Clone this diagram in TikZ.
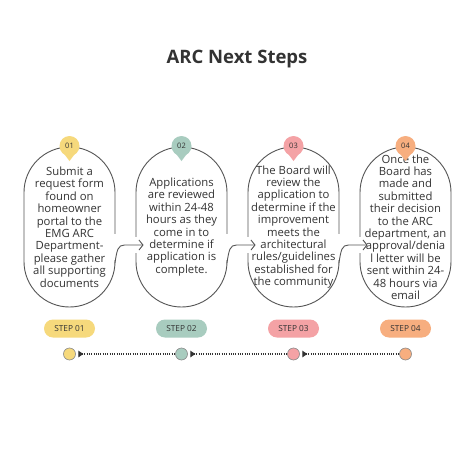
\documentclass[tikz,border=0pt]{standalone}
\usepackage{fontspec}
\setmainfont{Open Sans}
\usetikzlibrary{arrows.meta,calc}
\definecolor{cyel}{HTML}{F6D97C}
\definecolor{cgrn}{HTML}{A8CCBF}
\definecolor{cpnk}{HTML}{F4A2A5}
\definecolor{corg}{HTML}{F7AE7F}
\definecolor{ctxt}{HTML}{333333}
\definecolor{cline}{HTML}{555555}
\definecolor{cdot}{HTML}{8A8A8A}
\begin{document}
\begin{tikzpicture}[x=1pt,y=-1pt,
  pill/.style={draw=cline, line width=0.9pt, fill=white, rounded corners=45.4pt,
    minimum width=91pt, minimum height=160pt, inner sep=0pt, align=center,
    text=ctxt, font=\fontsize{11.3}{12.4}\selectfont},
  badge/.style={circle, minimum size=20pt, inner sep=0pt, text=ctxt,
    font=\fontsize{7.5}{8}\selectfont},
  steplbl/.style={rounded corners=9pt, minimum width=51pt, minimum height=18pt,
    inner sep=0pt, text=ctxt, font=\fontsize{8.3}{9}\selectfont},
  dotnode/.style={circle, draw=cdot, line width=0.6pt, minimum size=12pt, inner sep=0pt},
  conn/.style={draw=cline, line width=0.9pt, -{Straight Barb[length=4pt,width=10pt]}},
  gap/.style={draw=white, line width=2.4pt},
  dotline/.style={draw=ctxt, line width=1.1pt, dash pattern=on 1pt off 1.3pt,
    {Triangle[reversed,length=5pt,width=6.5pt]}-, shorten <=2.5pt}
]
\useasboundingbox[fill=white] (0,0) rectangle (474,474);

\node[font=\bfseries\fontsize{18.5}{22}\selectfont, text=ctxt] (title) at (237,59) {ARC Next Steps};

% pills
\node[pill] (p1) at (69.5,227) {Submit a\\request form\\found on\\homeowner\\portal to the\\EMG ARC\\Department-\\please gather\\all supporting\\documents};
\node[pill] (p2) at (181.5,227) {Applications\\are reviewed\\within 24-48\\hours as they\\come in to\\determine if\\application is\\complete.};
\node[pill] (p3) at (293.5,227) {The Board will\\review the\\application to\\determine if the\\improvement\\meets the\\architectural\\rules/guidelines\\established for\\the community};
\node[pill] (p4) at (405.5,227) {Once the\\Board has\\made and\\submitted\\their decision\\to the ARC\\department, an\\approval/denia\\l letter will be\\sent within 24-\\48 hours via\\email};

% gaps in outlines
\foreach \a/\b in {p1/p2,p2/p3,p3/p4}{
  \draw[gap] ($(\a.east)+(0,7)$) -- ($(\a.east)+(0,33)$);
  \draw[gap] ($(\b.west)+(0,10)$) -- ($(\b.west)+(0,26)$);
  \draw[conn] ($(\a.east)+(-0.5,36)$) .. controls ($(\a.east)+(1.5,23)$) and ($(\a.east)+(2.5,18)$) .. ($(\a.east)+(9,18)$) -- ($(\b.west)+(8,18)$);
}

% badges
\foreach \n/\x/\c in {1/69.5/cyel,2/181.5/cgrn,3/293.5/cpnk,4/405.5/corg}{
  \fill[\c] (\x-6,153) -- (\x,161) -- (\x+6,153) -- cycle;
  \node[badge, fill=\c] (b\n) at (\x,146) {0\n};
}

% step labels
\node[steplbl, fill=cyel] (s1) at (69.5,328.5) {STEP 01};
\node[steplbl, fill=cgrn] (s2) at (181.5,328.5) {STEP 02};
\node[steplbl, fill=cpnk] (s3) at (293.5,328.5) {STEP 03};
\node[steplbl, fill=corg] (s4) at (405.5,328.5) {STEP 04};

% dots
\node[dotnode, fill=cyel] (d1) at (69.5,354) {};
\node[dotnode, fill=cgrn] (d2) at (181.5,354) {};
\node[dotnode, fill=cpnk] (d3) at (293.5,354) {};
\node[dotnode, fill=corg] (d4) at (405.5,354) {};
\draw[dotline] (d1) -- (d2);
\draw[dotline] (d2) -- (d3);
\draw[dotline] (d3) -- (d4);
\end{tikzpicture}
\end{document}
